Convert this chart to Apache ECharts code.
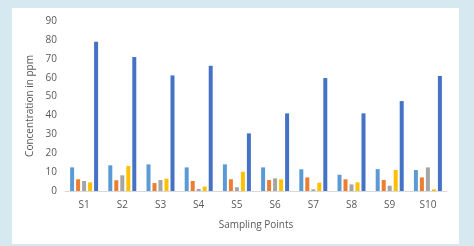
<!DOCTYPE html>
<html><head><meta charset="utf-8">
<script src="https://cdn.jsdelivr.net/npm/echarts@6/dist/echarts.min.js"></script>
<style>html,body{margin:0;padding:0;background:#d6e9f1;}#c{width:474px;height:246px;}</style>
</head><body><div id="c"></div>
<script>
const categories = ['S1','S2','S3','S4','S5','S6','S7','S8','S9','S10'];
const seriesA = [12.5, 13.6, 14.1, 12.5, 14.1, 12.5, 11.5, 8.6, 11.6, 11.1];
const seriesB = [6.2, 5.7, 4.2, 5.3, 6.2, 5.8, 7.2, 6.2, 5.8, 7.2];
const seriesC = [5.3, 8.3, 5.8, 1.1, 2.0, 6.7, 0.9, 3.5, 2.8, 12.5];
const seriesD = [4.6, 13.2, 6.5, 2.3, 10.2, 6.2, 4.4, 4.6, 11.1, 0.9];
const seriesE = [79, 70.9, 61.2, 66.3, 30.5, 41.1, 59.8, 41.1, 47.6, 60.9];
const yTicks = [0, 10, 20, 30, 40, 50, 60, 70, 80, 90];

const chart = echarts.init(document.getElementById('c'), null, {renderer: 'canvas'});
const font = '"Open Sans", "Liberation Sans", sans-serif';
const colors = ['#5b9bd5', '#ed7d31', '#a5a5a5', '#ffc000', '#4472c4'];
const data = [seriesA, seriesB, seriesC, seriesD, seriesE];
chart.setOption({
  backgroundColor: '#d6e9f1',
  animation: false,
  graphic: [{type: 'rect', shape: {x: 12, y: 8, width: 447, height: 236}, style: {fill: '#ffffff'}, z: -10}],
  grid: {left: 65, right: 27, top: 21, bottom: 55},
  xAxis: {
    type: 'category', data: categories,
    axisLine: {lineStyle: {color: '#d9d9d9', width: 1}},
    axisTick: {show: false},
    axisLabel: {color: '#595959', fontSize: 10, fontFamily: font, margin: 9},
    name: 'Sampling Points', nameLocation: 'middle', nameGap: 29,
    nameTextStyle: {color: '#595959', fontSize: 10, fontFamily: font}
  },
  yAxis: {
    type: 'value', min: yTicks[0], max: yTicks[yTicks.length - 1], interval: 10,
    axisLine: {show: false}, axisTick: {show: false},
    splitLine: {show: false},
    axisLabel: {color: '#595959', fontSize: 10, fontFamily: font, margin: 8},
    name: 'Concentration in ppm', nameLocation: 'middle', nameGap: 23,
    nameTextStyle: {color: '#595959', fontSize: 10, fontFamily: font}
  },
  series: data.map((d, i) => ({
    type: 'bar', data: d, barWidth: 4, barGap: '50%',
    itemStyle: {color: colors[i]}
  }))
});
</script></body></html>
